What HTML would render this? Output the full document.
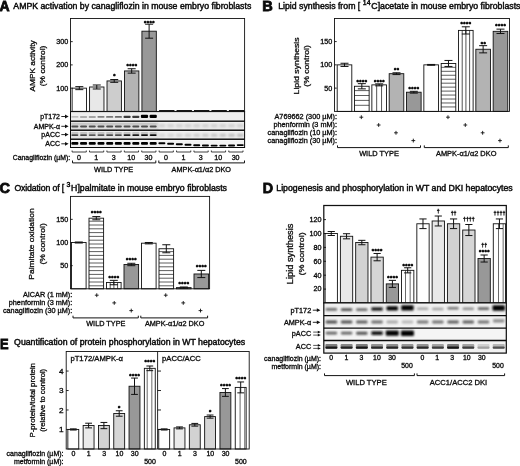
<!DOCTYPE html>
<html lang="en"><head><meta charset="utf-8"><title>Figure</title>
<style>html,body{margin:0;padding:0;background:#fff;}svg{display:block;}text{fill:#0a0a0a;stroke:#0a0a0a;stroke-width:0.32px;}</style></head><body>
<svg width="520" height="466" viewBox="0 0 520 466" font-family='"Liberation Sans", sans-serif'>
<defs>
<filter id="b1" x="-30%" y="-80%" width="160%" height="260%"><feGaussianBlur stdDeviation="0.55"/></filter>
<filter id="b2" x="-30%" y="-80%" width="160%" height="260%"><feGaussianBlur stdDeviation="0.9"/></filter>
</defs>
<rect width="520" height="466" fill="#fff"/>
<text transform="translate(-0.40,10.80) scale(0.96,1)" x="0" y="0" font-size="14.6px" font-weight="bold" style="stroke-width:0.8px">A</text>
<text transform="translate(13.30,9.20) scale(1,0.93)" font-size="8.75px" style="stroke-width:0.45px"><tspan>AMPK activation by canagliflozin in mouse embryo fibroblasts</tspan></text>
<rect x="72.12" y="88.15" width="14.40" height="23.25" fill="#fff" stroke="#111" stroke-width="0.9" />
<line x1="79.32" y1="86.65" x2="79.32" y2="89.65" stroke="#111" stroke-width="1.0"/>
<line x1="75.32" y1="86.65" x2="83.32" y2="86.65" stroke="#111" stroke-width="1.0"/>
<line x1="75.32" y1="89.65" x2="83.32" y2="89.65" stroke="#111" stroke-width="1.0"/>
<rect x="89.57" y="86.99" width="14.40" height="24.41" fill="#e8e8e8" stroke="#111" stroke-width="0.9" />
<line x1="96.77" y1="84.99" x2="96.77" y2="88.99" stroke="#111" stroke-width="1.0"/>
<line x1="92.77" y1="84.99" x2="100.77" y2="84.99" stroke="#111" stroke-width="1.0"/>
<line x1="92.77" y1="88.99" x2="100.77" y2="88.99" stroke="#111" stroke-width="1.0"/>
<rect x="107.02" y="80.94" width="14.40" height="30.46" fill="#cdcdcd" stroke="#111" stroke-width="0.9" />
<line x1="114.22" y1="79.54" x2="114.22" y2="82.34" stroke="#111" stroke-width="1.0"/>
<line x1="110.22" y1="79.54" x2="118.22" y2="79.54" stroke="#111" stroke-width="1.0"/>
<line x1="110.22" y1="82.34" x2="118.22" y2="82.34" stroke="#111" stroke-width="1.0"/>
<rect x="124.47" y="70.94" width="14.40" height="40.46" fill="#b3b3b3" stroke="#111" stroke-width="0.9" />
<line x1="131.67" y1="68.74" x2="131.67" y2="73.14" stroke="#111" stroke-width="1.0"/>
<line x1="127.67" y1="68.74" x2="135.67" y2="68.74" stroke="#111" stroke-width="1.0"/>
<line x1="127.67" y1="73.14" x2="135.67" y2="73.14" stroke="#111" stroke-width="1.0"/>
<rect x="141.92" y="31.19" width="14.40" height="80.21" fill="#989898" stroke="#111" stroke-width="0.9" />
<line x1="149.12" y1="24.19" x2="149.12" y2="38.19" stroke="#111" stroke-width="1.0"/>
<line x1="145.12" y1="24.19" x2="153.12" y2="24.19" stroke="#111" stroke-width="1.0"/>
<line x1="145.12" y1="38.19" x2="153.12" y2="38.19" stroke="#111" stroke-width="1.0"/>
<rect x="159.58" y="110.50" width="14.40" height="0.90" fill="#999" stroke="#111" stroke-width="0.9" />
<rect x="177.03" y="110.50" width="14.40" height="0.90" fill="#999" stroke="#111" stroke-width="0.9" />
<rect x="194.48" y="110.50" width="14.40" height="0.90" fill="#999" stroke="#111" stroke-width="0.9" />
<rect x="211.93" y="110.50" width="14.40" height="0.90" fill="#999" stroke="#111" stroke-width="0.9" />
<rect x="229.38" y="110.50" width="14.40" height="0.90" fill="#999" stroke="#111" stroke-width="0.9" />
<text transform="translate(114.67,78.13) scale(1,0.92)" font-size="5.8px" text-anchor="middle" font-weight="bold" letter-spacing="0.5" style="stroke-width:0.5px">*</text>
<text transform="translate(132.12,68.33) scale(1,0.92)" font-size="5.8px" text-anchor="middle" font-weight="bold" letter-spacing="0.5" style="stroke-width:0.5px">****</text>
<text transform="translate(149.57,25.13) scale(1,0.92)" font-size="5.8px" text-anchor="middle" font-weight="bold" letter-spacing="0.5" style="stroke-width:0.5px">****</text>
<rect x="70.50" y="18.50" width="174.10" height="92.90" fill="none" stroke="#111" stroke-width="0.9" />
<line x1="70.50" y1="88.15" x2="72.70" y2="88.15" stroke="#111" stroke-width="0.9"/>
<text transform="translate(68.30,90.53) scale(1,0.92)" font-size="7.2px" text-anchor="end" font-weight="normal" >100</text>
<line x1="70.50" y1="64.90" x2="72.70" y2="64.90" stroke="#111" stroke-width="0.9"/>
<text transform="translate(68.30,67.28) scale(1,0.92)" font-size="7.2px" text-anchor="end" font-weight="normal" >200</text>
<line x1="70.50" y1="41.65" x2="72.70" y2="41.65" stroke="#111" stroke-width="0.9"/>
<text transform="translate(68.30,44.03) scale(1,0.92)" font-size="7.2px" text-anchor="end" font-weight="normal" >300</text>
<text transform="translate(32.00,65.90) rotate(-90) scale(1,0.88)" x="0" y="2.99" font-size="8.3px" text-anchor="middle">AMPK activity</text>
<text transform="translate(42.20,65.90) rotate(-90) scale(1,0.88)" x="0" y="3.02" font-size="8.4px" text-anchor="middle">(% control)</text>
<rect x="70.50" y="111.60" width="174.10" height="9.50" fill="#eeeeee" stroke="none" stroke-width="0" />
<rect x="70.50" y="121.10" width="174.10" height="9.10" fill="#dcdcdc" stroke="none" stroke-width="0" />
<rect x="70.50" y="130.20" width="174.10" height="9.00" fill="#e4e4e4" stroke="none" stroke-width="0" />
<rect x="70.50" y="139.20" width="174.10" height="8.30" fill="#f2f2f2" stroke="none" stroke-width="0" />
<rect x="158.50" y="122.20" width="85.70" height="7.60" fill="#ebebeb" stroke="none" stroke-width="0" />
<rect x="158.50" y="131.40" width="85.70" height="7.60" fill="#eeeeee" stroke="none" stroke-width="0" />
<rect x="71" y="122.4" width="86" height="2.4" fill="#bdbdbd" filter="url(#b2)"/>
<rect x="71.25" y="116.25" width="7.20" height="1.30" rx="0.65" fill="#aaa" opacity="1.0" filter="url(#b1)"/>
<rect x="79.96" y="116.15" width="7.20" height="1.50" rx="0.75" fill="#999" opacity="1.0" filter="url(#b1)"/>
<rect x="88.66" y="116.15" width="7.20" height="1.50" rx="0.75" fill="#8a8a8a" opacity="1.0" filter="url(#b1)"/>
<rect x="97.37" y="116.10" width="7.20" height="1.60" rx="0.80" fill="#808080" opacity="1.0" filter="url(#b1)"/>
<rect x="106.07" y="116.05" width="7.20" height="1.70" rx="0.85" fill="#777" opacity="1.0" filter="url(#b1)"/>
<rect x="114.78" y="116.00" width="7.20" height="1.80" rx="0.90" fill="#6a6a6a" opacity="1.0" filter="url(#b1)"/>
<rect x="123.48" y="115.80" width="7.20" height="2.20" rx="1.00" fill="#3a3a3a" opacity="1.0" filter="url(#b1)"/>
<rect x="132.19" y="115.80" width="7.20" height="2.20" rx="1.00" fill="#3a3a3a" opacity="1.0" filter="url(#b1)"/>
<rect x="140.89" y="114.70" width="7.20" height="3.40" rx="1.00" fill="#000" opacity="1.0" filter="url(#b1)"/>
<rect x="149.60" y="114.70" width="7.20" height="3.40" rx="1.00" fill="#000" opacity="1.0" filter="url(#b1)"/>
<rect x="71.35" y="125.60" width="7.00" height="2.00" rx="1.00" fill="#505050" opacity="1.0" filter="url(#b1)"/>
<rect x="80.06" y="125.60" width="7.00" height="2.00" rx="1.00" fill="#505050" opacity="1.0" filter="url(#b1)"/>
<rect x="88.76" y="125.60" width="7.00" height="2.00" rx="1.00" fill="#505050" opacity="1.0" filter="url(#b1)"/>
<rect x="97.47" y="125.60" width="7.00" height="2.00" rx="1.00" fill="#505050" opacity="1.0" filter="url(#b1)"/>
<rect x="106.17" y="125.60" width="7.00" height="2.00" rx="1.00" fill="#505050" opacity="1.0" filter="url(#b1)"/>
<rect x="114.88" y="125.60" width="7.00" height="2.00" rx="1.00" fill="#505050" opacity="1.0" filter="url(#b1)"/>
<rect x="123.58" y="125.60" width="7.00" height="2.00" rx="1.00" fill="#505050" opacity="1.0" filter="url(#b1)"/>
<rect x="132.29" y="125.60" width="7.00" height="2.00" rx="1.00" fill="#505050" opacity="1.0" filter="url(#b1)"/>
<rect x="140.99" y="125.60" width="7.00" height="2.00" rx="1.00" fill="#505050" opacity="1.0" filter="url(#b1)"/>
<rect x="149.70" y="125.60" width="7.00" height="2.00" rx="1.00" fill="#505050" opacity="1.0" filter="url(#b1)"/>
<rect x="158.60" y="124.30" width="6.60" height="3.00" rx="1.00" fill="#cfcfcf" opacity="1" filter="url(#b2)"/>
<rect x="167.31" y="124.30" width="6.60" height="3.00" rx="1.00" fill="#cfcfcf" opacity="1" filter="url(#b2)"/>
<rect x="176.01" y="124.30" width="6.60" height="3.00" rx="1.00" fill="#cfcfcf" opacity="1" filter="url(#b2)"/>
<rect x="184.72" y="124.30" width="6.60" height="3.00" rx="1.00" fill="#cfcfcf" opacity="1" filter="url(#b2)"/>
<rect x="193.42" y="124.30" width="6.60" height="3.00" rx="1.00" fill="#cfcfcf" opacity="1" filter="url(#b2)"/>
<rect x="202.13" y="124.30" width="6.60" height="3.00" rx="1.00" fill="#cfcfcf" opacity="1" filter="url(#b2)"/>
<rect x="210.83" y="124.30" width="6.60" height="3.00" rx="1.00" fill="#cfcfcf" opacity="1" filter="url(#b2)"/>
<rect x="219.54" y="124.30" width="6.60" height="3.00" rx="1.00" fill="#cfcfcf" opacity="1" filter="url(#b2)"/>
<rect x="228.24" y="124.30" width="6.60" height="3.00" rx="1.00" fill="#cfcfcf" opacity="1" filter="url(#b2)"/>
<rect x="236.95" y="124.30" width="6.60" height="3.00" rx="1.00" fill="#cfcfcf" opacity="1" filter="url(#b2)"/>
<rect x="71.35" y="134.15" width="7.00" height="1.90" rx="0.95" fill="#484848" opacity="1.0" filter="url(#b1)"/>
<rect x="71.35" y="132.50" width="7.00" height="1.00" rx="0.50" fill="#a4a4a4" opacity="1.0" filter="url(#b1)"/>
<rect x="80.06" y="134.15" width="7.00" height="1.90" rx="0.95" fill="#484848" opacity="1.0" filter="url(#b1)"/>
<rect x="80.06" y="132.50" width="7.00" height="1.00" rx="0.50" fill="#a4a4a4" opacity="1.0" filter="url(#b1)"/>
<rect x="88.76" y="134.15" width="7.00" height="1.90" rx="0.95" fill="#585858" opacity="1.0" filter="url(#b1)"/>
<rect x="88.76" y="132.50" width="7.00" height="1.00" rx="0.50" fill="#a4a4a4" opacity="1.0" filter="url(#b1)"/>
<rect x="97.47" y="134.15" width="7.00" height="1.90" rx="0.95" fill="#585858" opacity="1.0" filter="url(#b1)"/>
<rect x="97.47" y="132.50" width="7.00" height="1.00" rx="0.50" fill="#a4a4a4" opacity="1.0" filter="url(#b1)"/>
<rect x="106.17" y="134.15" width="7.00" height="1.90" rx="0.95" fill="#4c4c4c" opacity="1.0" filter="url(#b1)"/>
<rect x="106.17" y="132.50" width="7.00" height="1.00" rx="0.50" fill="#a4a4a4" opacity="1.0" filter="url(#b1)"/>
<rect x="114.88" y="134.15" width="7.00" height="1.90" rx="0.95" fill="#4c4c4c" opacity="1.0" filter="url(#b1)"/>
<rect x="114.88" y="132.50" width="7.00" height="1.00" rx="0.50" fill="#a4a4a4" opacity="1.0" filter="url(#b1)"/>
<rect x="123.58" y="134.15" width="7.00" height="1.90" rx="0.95" fill="#1a1a1a" opacity="1.0" filter="url(#b1)"/>
<rect x="123.58" y="132.50" width="7.00" height="1.00" rx="0.50" fill="#a4a4a4" opacity="1.0" filter="url(#b1)"/>
<rect x="132.29" y="134.15" width="7.00" height="1.90" rx="0.95" fill="#1a1a1a" opacity="1.0" filter="url(#b1)"/>
<rect x="132.29" y="132.50" width="7.00" height="1.00" rx="0.50" fill="#a4a4a4" opacity="1.0" filter="url(#b1)"/>
<rect x="140.99" y="134.15" width="7.00" height="1.90" rx="0.95" fill="#0c0c0c" opacity="1.0" filter="url(#b1)"/>
<rect x="140.99" y="132.50" width="7.00" height="1.00" rx="0.50" fill="#a4a4a4" opacity="1.0" filter="url(#b1)"/>
<rect x="149.70" y="134.15" width="7.00" height="1.90" rx="0.95" fill="#0c0c0c" opacity="1.0" filter="url(#b1)"/>
<rect x="149.70" y="132.50" width="7.00" height="1.00" rx="0.50" fill="#a4a4a4" opacity="1.0" filter="url(#b1)"/>
<rect x="158.60" y="133.70" width="6.60" height="3.00" rx="1.00" fill="#d6d6d6" opacity="1" filter="url(#b2)"/>
<rect x="167.31" y="133.70" width="6.60" height="3.00" rx="1.00" fill="#d3d3d3" opacity="1" filter="url(#b2)"/>
<rect x="176.01" y="133.70" width="6.60" height="3.00" rx="1.00" fill="#d0d0d0" opacity="1" filter="url(#b2)"/>
<rect x="184.72" y="133.70" width="6.60" height="3.00" rx="1.00" fill="#cdcdcd" opacity="1" filter="url(#b2)"/>
<rect x="193.42" y="133.70" width="6.60" height="3.00" rx="1.00" fill="#cacaca" opacity="1" filter="url(#b2)"/>
<rect x="202.13" y="133.70" width="6.60" height="3.00" rx="1.00" fill="#c7c7c7" opacity="1" filter="url(#b2)"/>
<rect x="210.83" y="133.70" width="6.60" height="3.00" rx="1.00" fill="#c4c4c4" opacity="1" filter="url(#b2)"/>
<rect x="219.54" y="133.70" width="6.60" height="3.00" rx="1.00" fill="#c1c1c1" opacity="1" filter="url(#b2)"/>
<rect x="228.24" y="133.70" width="6.60" height="3.00" rx="1.00" fill="#bebebe" opacity="1" filter="url(#b2)"/>
<rect x="236.95" y="133.70" width="6.60" height="3.00" rx="1.00" fill="#bbbbbb" opacity="1" filter="url(#b2)"/>
<rect x="71.35" y="141.95" width="7.00" height="2.70" rx="1.00" fill="#000" opacity="1.0" filter="url(#b1)"/>
<rect x="80.06" y="141.95" width="7.00" height="2.70" rx="1.00" fill="#000" opacity="1.0" filter="url(#b1)"/>
<rect x="88.76" y="141.95" width="7.00" height="2.70" rx="1.00" fill="#000" opacity="1.0" filter="url(#b1)"/>
<rect x="97.47" y="141.95" width="7.00" height="2.70" rx="1.00" fill="#000" opacity="1.0" filter="url(#b1)"/>
<rect x="106.17" y="141.95" width="7.00" height="2.70" rx="1.00" fill="#000" opacity="1.0" filter="url(#b1)"/>
<rect x="114.88" y="141.95" width="7.00" height="2.70" rx="1.00" fill="#000" opacity="1.0" filter="url(#b1)"/>
<rect x="123.58" y="141.95" width="7.00" height="2.70" rx="1.00" fill="#000" opacity="1.0" filter="url(#b1)"/>
<rect x="132.29" y="141.95" width="7.00" height="2.70" rx="1.00" fill="#000" opacity="1.0" filter="url(#b1)"/>
<rect x="140.99" y="141.95" width="7.00" height="2.70" rx="1.00" fill="#000" opacity="1.0" filter="url(#b1)"/>
<rect x="149.70" y="141.95" width="7.00" height="2.70" rx="1.00" fill="#000" opacity="1.0" filter="url(#b1)"/>
<rect x="158.40" y="142.35" width="7.00" height="1.90" rx="0.95" fill="#000" opacity="1.0" filter="url(#b1)"/>
<rect x="167.11" y="142.75" width="7.00" height="1.90" rx="0.95" fill="#000" opacity="1.0" filter="url(#b1)"/>
<rect x="175.81" y="143.35" width="7.00" height="1.90" rx="0.95" fill="#000" opacity="1.0" filter="url(#b1)"/>
<rect x="184.52" y="143.85" width="7.00" height="1.90" rx="0.95" fill="#000" opacity="1.0" filter="url(#b1)"/>
<rect x="193.22" y="144.35" width="7.00" height="1.90" rx="0.95" fill="#000" opacity="1.0" filter="url(#b1)"/>
<rect x="201.93" y="144.55" width="7.00" height="1.90" rx="0.95" fill="#000" opacity="1.0" filter="url(#b1)"/>
<rect x="210.63" y="144.65" width="7.00" height="1.90" rx="0.95" fill="#000" opacity="1.0" filter="url(#b1)"/>
<rect x="219.34" y="144.65" width="7.00" height="1.90" rx="0.95" fill="#000" opacity="1.0" filter="url(#b1)"/>
<rect x="228.04" y="144.55" width="7.00" height="1.90" rx="0.95" fill="#000" opacity="1.0" filter="url(#b1)"/>
<rect x="236.75" y="144.15" width="7.00" height="1.90" rx="0.95" fill="#000" opacity="1.0" filter="url(#b1)"/>
<line x1="70.50" y1="121.20" x2="244.60" y2="121.20" stroke="#0a0a0a" stroke-width="1.5"/>
<line x1="70.50" y1="122.30" x2="244.60" y2="122.30" stroke="#fafafa" stroke-width="0.6"/>
<line x1="70.50" y1="130.30" x2="244.60" y2="130.30" stroke="#0a0a0a" stroke-width="1.5"/>
<line x1="70.50" y1="131.40" x2="244.60" y2="131.40" stroke="#fafafa" stroke-width="0.6"/>
<line x1="70.50" y1="139.30" x2="244.60" y2="139.30" stroke="#0a0a0a" stroke-width="1.5"/>
<line x1="70.50" y1="140.40" x2="244.60" y2="140.40" stroke="#fafafa" stroke-width="0.6"/>
<rect x="70.50" y="111.60" width="174.10" height="35.90" fill="none" stroke="#0a0a0a" stroke-width="1.0" />
<text transform="translate(60.00,118.82) scale(1,0.92)" font-size="7.0px" text-anchor="end" font-weight="normal" >pT172</text>
<line x1="61.30" y1="116.50" x2="66.80" y2="116.50" stroke="#111" stroke-width="0.9"/>
<path d="M68.60,116.50 L65.00,114.60 L65.00,118.40 Z" fill="#111"/>
<text transform="translate(60.00,128.62) scale(1,0.92)" font-size="7.0px" text-anchor="end" font-weight="normal" >AMPK-α</text>
<line x1="61.30" y1="126.30" x2="66.80" y2="126.30" stroke="#111" stroke-width="0.9"/>
<path d="M68.60,126.30 L65.00,124.40 L65.00,128.20 Z" fill="#111"/>
<text transform="translate(60.00,136.92) scale(1,0.92)" font-size="7.0px" text-anchor="end" font-weight="normal" >pACC</text>
<line x1="61.30" y1="134.60" x2="66.80" y2="134.60" stroke="#111" stroke-width="0.9"/>
<path d="M68.60,134.60 L65.00,132.70 L65.00,136.50 Z" fill="#111"/>
<text transform="translate(60.00,146.12) scale(1,0.92)" font-size="7.0px" text-anchor="end" font-weight="normal" >ACC</text>
<line x1="61.30" y1="143.80" x2="66.80" y2="143.80" stroke="#111" stroke-width="0.9"/>
<path d="M68.60,143.80 L65.00,141.90 L65.00,145.70 Z" fill="#111"/>
<path d="M72.10,150.50 V152.00 H86.31 V150.50" fill="none" stroke="#111" stroke-width="0.8"/>
<path d="M89.51,150.50 V152.00 H103.72 V150.50" fill="none" stroke="#111" stroke-width="0.8"/>
<path d="M106.92,150.50 V152.00 H121.13 V150.50" fill="none" stroke="#111" stroke-width="0.8"/>
<path d="M124.33,150.50 V152.00 H138.54 V150.50" fill="none" stroke="#111" stroke-width="0.8"/>
<path d="M141.74,150.50 V152.00 H155.95 V150.50" fill="none" stroke="#111" stroke-width="0.8"/>
<path d="M159.15,150.50 V152.00 H173.36 V150.50" fill="none" stroke="#111" stroke-width="0.8"/>
<path d="M176.56,150.50 V152.00 H190.77 V150.50" fill="none" stroke="#111" stroke-width="0.8"/>
<path d="M193.97,150.50 V152.00 H208.18 V150.50" fill="none" stroke="#111" stroke-width="0.8"/>
<path d="M211.38,150.50 V152.00 H225.59 V150.50" fill="none" stroke="#111" stroke-width="0.8"/>
<path d="M228.79,150.50 V152.00 H243.00 V150.50" fill="none" stroke="#111" stroke-width="0.8"/>
<text transform="translate(70.20,159.89) scale(1,0.92)" font-size="6.9px" text-anchor="end" font-weight="normal" >Canagliflozin (µM):</text>
<text transform="translate(78.91,159.75) scale(1,0.92)" font-size="7.1px" text-anchor="middle" font-weight="normal" >0</text>
<text transform="translate(96.32,159.75) scale(1,0.92)" font-size="7.1px" text-anchor="middle" font-weight="normal" >1</text>
<text transform="translate(113.73,159.75) scale(1,0.92)" font-size="7.1px" text-anchor="middle" font-weight="normal" >3</text>
<text transform="translate(131.13,159.75) scale(1,0.92)" font-size="7.1px" text-anchor="middle" font-weight="normal" >10</text>
<text transform="translate(148.54,159.75) scale(1,0.92)" font-size="7.1px" text-anchor="middle" font-weight="normal" >30</text>
<text transform="translate(165.95,159.75) scale(1,0.92)" font-size="7.1px" text-anchor="middle" font-weight="normal" >0</text>
<text transform="translate(183.37,159.75) scale(1,0.92)" font-size="7.1px" text-anchor="middle" font-weight="normal" >1</text>
<text transform="translate(200.77,159.75) scale(1,0.92)" font-size="7.1px" text-anchor="middle" font-weight="normal" >3</text>
<text transform="translate(218.19,159.75) scale(1,0.92)" font-size="7.1px" text-anchor="middle" font-weight="normal" >10</text>
<text transform="translate(235.59,159.75) scale(1,0.92)" font-size="7.1px" text-anchor="middle" font-weight="normal" >30</text>
<path d="M72.50,160.50 V162.90 H155.80 V160.50" fill="none" stroke="#111" stroke-width="1.0"/>
<path d="M158.80,160.50 V162.90 H244.50 V160.50" fill="none" stroke="#111" stroke-width="1.0"/>
<text transform="translate(113.60,172.02) scale(1,0.92)" font-size="7.3px" text-anchor="middle" font-weight="normal" >WILD TYPE</text>
<text transform="translate(201.30,172.02) scale(1,0.92)" font-size="7.3px" text-anchor="middle" font-weight="normal" >AMPK-α1/α2 DKO</text>
<text transform="translate(262.30,10.90) scale(1.0,1)" x="0" y="0" font-size="14.6px" font-weight="bold" style="stroke-width:0.8px">B</text>
<text transform="translate(278.20,9.20) scale(1,0.93)" font-size="8.75px" style="stroke-width:0.45px"><tspan>Lipid synthesis from [</tspan><tspan dx="2.5" dy="-4.7" font-size="7px">14</tspan><tspan dx="0.8" dy="4.7">C]acetate in mouse embryo fibroblasts</tspan></text>
<rect x="337.20" y="64.85" width="14.60" height="46.55" fill="#fff" stroke="#111" stroke-width="0.9" />
<line x1="344.50" y1="63.25" x2="344.50" y2="66.45" stroke="#111" stroke-width="1.0"/>
<line x1="340.50" y1="63.25" x2="348.50" y2="63.25" stroke="#111" stroke-width="1.0"/>
<line x1="340.50" y1="66.45" x2="348.50" y2="66.45" stroke="#111" stroke-width="1.0"/>
<rect x="354.53" y="86.26" width="14.60" height="25.14" fill="#fff" stroke="none" stroke-width="0" />
<line x1="354.53" y1="105.30" x2="369.13" y2="105.30" stroke="#2a2a2a" stroke-width="0.75"/>
<line x1="354.53" y1="100.40" x2="369.13" y2="100.40" stroke="#2a2a2a" stroke-width="0.75"/>
<line x1="354.53" y1="95.50" x2="369.13" y2="95.50" stroke="#2a2a2a" stroke-width="0.75"/>
<line x1="354.53" y1="90.60" x2="369.13" y2="90.60" stroke="#2a2a2a" stroke-width="0.75"/>
<rect x="354.53" y="86.26" width="14.60" height="25.14" fill="none" stroke="#111" stroke-width="0.9" />
<line x1="361.83" y1="83.66" x2="361.83" y2="88.86" stroke="#111" stroke-width="1.0"/>
<line x1="357.83" y1="83.66" x2="365.83" y2="83.66" stroke="#111" stroke-width="1.0"/>
<line x1="357.83" y1="88.86" x2="365.83" y2="88.86" stroke="#111" stroke-width="1.0"/>
<text transform="translate(362.08,83.93) scale(1,0.92)" font-size="5.8px" text-anchor="middle" font-weight="bold" letter-spacing="0.5" style="stroke-width:0.5px">****</text>
<rect x="371.86" y="84.87" width="14.60" height="26.53" fill="#fff" stroke="none" stroke-width="0" />
<line x1="376.66" y1="84.87" x2="376.66" y2="111.40" stroke="#2a2a2a" stroke-width="0.8"/>
<line x1="381.56" y1="84.87" x2="381.56" y2="111.40" stroke="#2a2a2a" stroke-width="0.8"/>
<rect x="371.86" y="84.87" width="14.60" height="26.53" fill="none" stroke="#111" stroke-width="0.9" />
<line x1="379.16" y1="83.87" x2="379.16" y2="85.87" stroke="#111" stroke-width="1.0"/>
<line x1="375.16" y1="83.87" x2="383.16" y2="83.87" stroke="#111" stroke-width="1.0"/>
<line x1="375.16" y1="85.87" x2="383.16" y2="85.87" stroke="#111" stroke-width="1.0"/>
<text transform="translate(379.41,84.23) scale(1,0.92)" font-size="5.8px" text-anchor="middle" font-weight="bold" letter-spacing="0.5" style="stroke-width:0.5px">****</text>
<rect x="389.19" y="73.69" width="14.60" height="37.71" fill="#b3b3b3" stroke="#111" stroke-width="0.9" />
<line x1="396.49" y1="72.79" x2="396.49" y2="74.59" stroke="#111" stroke-width="1.0"/>
<line x1="392.49" y1="72.79" x2="400.49" y2="72.79" stroke="#111" stroke-width="1.0"/>
<line x1="392.49" y1="74.59" x2="400.49" y2="74.59" stroke="#111" stroke-width="1.0"/>
<text transform="translate(396.74,71.63) scale(1,0.92)" font-size="5.8px" text-anchor="middle" font-weight="bold" letter-spacing="0.5" style="stroke-width:0.5px">**</text>
<rect x="406.52" y="92.22" width="14.60" height="19.18" fill="#989898" stroke="#111" stroke-width="0.9" />
<line x1="413.82" y1="91.32" x2="413.82" y2="93.12" stroke="#111" stroke-width="1.0"/>
<line x1="409.82" y1="91.32" x2="417.82" y2="91.32" stroke="#111" stroke-width="1.0"/>
<line x1="409.82" y1="93.12" x2="417.82" y2="93.12" stroke="#111" stroke-width="1.0"/>
<text transform="translate(414.07,90.98) scale(1,0.92)" font-size="5.8px" text-anchor="middle" font-weight="bold" letter-spacing="0.5" style="stroke-width:0.5px">****</text>
<rect x="423.85" y="64.85" width="14.60" height="46.55" fill="#fff" stroke="#111" stroke-width="0.9" />
<line x1="431.15" y1="64.45" x2="431.15" y2="65.25" stroke="#111" stroke-width="1.0"/>
<line x1="427.15" y1="64.45" x2="435.15" y2="64.45" stroke="#111" stroke-width="1.0"/>
<line x1="427.15" y1="65.25" x2="435.15" y2="65.25" stroke="#111" stroke-width="1.0"/>
<rect x="441.18" y="63.45" width="14.60" height="47.95" fill="#fff" stroke="none" stroke-width="0" />
<line x1="441.18" y1="106.94" x2="455.78" y2="106.94" stroke="#2a2a2a" stroke-width="0.75"/>
<line x1="441.18" y1="102.98" x2="455.78" y2="102.98" stroke="#2a2a2a" stroke-width="0.75"/>
<line x1="441.18" y1="99.02" x2="455.78" y2="99.02" stroke="#2a2a2a" stroke-width="0.75"/>
<line x1="441.18" y1="95.06" x2="455.78" y2="95.06" stroke="#2a2a2a" stroke-width="0.75"/>
<line x1="441.18" y1="91.10" x2="455.78" y2="91.10" stroke="#2a2a2a" stroke-width="0.75"/>
<line x1="441.18" y1="87.14" x2="455.78" y2="87.14" stroke="#2a2a2a" stroke-width="0.75"/>
<line x1="441.18" y1="83.18" x2="455.78" y2="83.18" stroke="#2a2a2a" stroke-width="0.75"/>
<line x1="441.18" y1="79.22" x2="455.78" y2="79.22" stroke="#2a2a2a" stroke-width="0.75"/>
<line x1="441.18" y1="75.26" x2="455.78" y2="75.26" stroke="#2a2a2a" stroke-width="0.75"/>
<line x1="441.18" y1="71.30" x2="455.78" y2="71.30" stroke="#2a2a2a" stroke-width="0.75"/>
<line x1="441.18" y1="67.34" x2="455.78" y2="67.34" stroke="#2a2a2a" stroke-width="0.75"/>
<rect x="441.18" y="63.45" width="14.60" height="47.95" fill="none" stroke="#111" stroke-width="0.9" />
<line x1="448.48" y1="60.45" x2="448.48" y2="66.45" stroke="#111" stroke-width="1.0"/>
<line x1="444.48" y1="60.45" x2="452.48" y2="60.45" stroke="#111" stroke-width="1.0"/>
<line x1="444.48" y1="66.45" x2="452.48" y2="66.45" stroke="#111" stroke-width="1.0"/>
<rect x="458.51" y="30.40" width="14.60" height="81.00" fill="#fff" stroke="none" stroke-width="0" />
<line x1="462.21" y1="30.40" x2="462.21" y2="111.40" stroke="#2a2a2a" stroke-width="0.8"/>
<line x1="465.91" y1="30.40" x2="465.91" y2="111.40" stroke="#2a2a2a" stroke-width="0.8"/>
<line x1="469.61" y1="30.40" x2="469.61" y2="111.40" stroke="#2a2a2a" stroke-width="0.8"/>
<rect x="458.51" y="30.40" width="14.60" height="81.00" fill="none" stroke="#111" stroke-width="0.9" />
<line x1="465.81" y1="26.80" x2="465.81" y2="34.00" stroke="#111" stroke-width="1.0"/>
<line x1="461.81" y1="26.80" x2="469.81" y2="26.80" stroke="#111" stroke-width="1.0"/>
<line x1="461.81" y1="34.00" x2="469.81" y2="34.00" stroke="#111" stroke-width="1.0"/>
<text transform="translate(466.06,25.73) scale(1,0.92)" font-size="5.8px" text-anchor="middle" font-weight="bold" letter-spacing="0.5" style="stroke-width:0.5px">****</text>
<rect x="475.84" y="49.26" width="14.60" height="62.14" fill="#b3b3b3" stroke="#111" stroke-width="0.9" />
<line x1="483.14" y1="45.66" x2="483.14" y2="52.86" stroke="#111" stroke-width="1.0"/>
<line x1="479.14" y1="45.66" x2="487.14" y2="45.66" stroke="#111" stroke-width="1.0"/>
<line x1="479.14" y1="52.86" x2="487.14" y2="52.86" stroke="#111" stroke-width="1.0"/>
<text transform="translate(483.39,46.33) scale(1,0.92)" font-size="5.8px" text-anchor="middle" font-weight="bold" letter-spacing="0.5" style="stroke-width:0.5px">**</text>
<rect x="493.17" y="31.33" width="14.60" height="80.07" fill="#989898" stroke="#111" stroke-width="0.9" />
<line x1="500.47" y1="29.13" x2="500.47" y2="33.53" stroke="#111" stroke-width="1.0"/>
<line x1="496.47" y1="29.13" x2="504.47" y2="29.13" stroke="#111" stroke-width="1.0"/>
<line x1="496.47" y1="33.53" x2="504.47" y2="33.53" stroke="#111" stroke-width="1.0"/>
<text transform="translate(500.72,28.33) scale(1,0.92)" font-size="5.8px" text-anchor="middle" font-weight="bold" letter-spacing="0.5" style="stroke-width:0.5px">****</text>
<rect x="334.50" y="18.50" width="175.00" height="92.90" fill="none" stroke="#111" stroke-width="0.9" />
<line x1="334.50" y1="88.12" x2="336.70" y2="88.12" stroke="#111" stroke-width="0.9"/>
<text transform="translate(332.30,90.51) scale(1,0.92)" font-size="7.2px" text-anchor="end" font-weight="normal" >50</text>
<line x1="334.50" y1="64.85" x2="336.70" y2="64.85" stroke="#111" stroke-width="0.9"/>
<text transform="translate(332.30,67.23) scale(1,0.92)" font-size="7.2px" text-anchor="end" font-weight="normal" >100</text>
<line x1="334.50" y1="41.58" x2="336.70" y2="41.58" stroke="#111" stroke-width="0.9"/>
<text transform="translate(332.30,43.96) scale(1,0.92)" font-size="7.2px" text-anchor="end" font-weight="normal" >150</text>
<text transform="translate(296.30,65.90) rotate(-90) scale(1,0.86)" x="0" y="3.13" font-size="8.7px" text-anchor="middle">Lipid synthesis</text>
<text transform="translate(306.40,65.90) rotate(-90) scale(1,0.86)" x="0" y="3.10" font-size="8.6px" text-anchor="middle">(% control)</text>
<text transform="translate(337.00,119.42) scale(1,0.92)" font-size="7.3px" text-anchor="end" font-weight="normal" >A769662 (300 µM):</text>
<text transform="translate(337.00,127.22) scale(1,0.92)" font-size="7.3px" text-anchor="end" font-weight="normal" >phenformin (3 mM):</text>
<text transform="translate(337.00,135.02) scale(1,0.92)" font-size="7.3px" text-anchor="end" font-weight="normal" >canagliflozin (10 µM):</text>
<text transform="translate(337.00,142.82) scale(1,0.92)" font-size="7.3px" text-anchor="end" font-weight="normal" >canagliflozin (30 µM):</text>
<line x1="359.43" y1="117.20" x2="363.23" y2="117.20" stroke="#111" stroke-width="0.9"/>
<line x1="361.33" y1="115.30" x2="361.33" y2="119.10" stroke="#111" stroke-width="0.9"/>
<line x1="376.76" y1="125.00" x2="380.56" y2="125.00" stroke="#111" stroke-width="0.9"/>
<line x1="378.66" y1="123.10" x2="378.66" y2="126.90" stroke="#111" stroke-width="0.9"/>
<line x1="394.09" y1="132.80" x2="397.89" y2="132.80" stroke="#111" stroke-width="0.9"/>
<line x1="395.99" y1="130.90" x2="395.99" y2="134.70" stroke="#111" stroke-width="0.9"/>
<line x1="411.42" y1="140.60" x2="415.22" y2="140.60" stroke="#111" stroke-width="0.9"/>
<line x1="413.32" y1="138.70" x2="413.32" y2="142.50" stroke="#111" stroke-width="0.9"/>
<line x1="446.08" y1="117.20" x2="449.88" y2="117.20" stroke="#111" stroke-width="0.9"/>
<line x1="447.98" y1="115.30" x2="447.98" y2="119.10" stroke="#111" stroke-width="0.9"/>
<line x1="463.41" y1="125.00" x2="467.21" y2="125.00" stroke="#111" stroke-width="0.9"/>
<line x1="465.31" y1="123.10" x2="465.31" y2="126.90" stroke="#111" stroke-width="0.9"/>
<line x1="480.74" y1="132.80" x2="484.54" y2="132.80" stroke="#111" stroke-width="0.9"/>
<line x1="482.64" y1="130.90" x2="482.64" y2="134.70" stroke="#111" stroke-width="0.9"/>
<line x1="498.07" y1="140.60" x2="501.87" y2="140.60" stroke="#111" stroke-width="0.9"/>
<line x1="499.97" y1="138.70" x2="499.97" y2="142.50" stroke="#111" stroke-width="0.9"/>
<path d="M337.50,145.40 V147.60 H420.50 V145.40" fill="none" stroke="#111" stroke-width="1.0"/>
<path d="M424.30,145.40 V147.60 H508.30 V145.40" fill="none" stroke="#111" stroke-width="1.0"/>
<text transform="translate(379.00,155.85) scale(1,0.92)" font-size="7.4px" text-anchor="middle" font-weight="normal" >WILD TYPE</text>
<text transform="translate(466.20,155.85) scale(1,0.92)" font-size="7.4px" text-anchor="middle" font-weight="normal" >AMPK-α1/α2 DKO</text>
<text transform="translate(-0.50,193.00) scale(1.0,1)" x="0" y="0" font-size="14.6px" font-weight="bold" style="stroke-width:0.8px">C</text>
<text transform="translate(14.40,190.90) scale(1,0.93)" font-size="8.75px" style="stroke-width:0.45px"><tspan letter-spacing="-0.13">Oxidation of [</tspan><tspan dx="2.4" dy="-4.7" font-size="7px">3</tspan><tspan dx="0.7" dy="4.7">H]palmitate in mouse embryo fibroblasts</tspan></text>
<rect x="71.50" y="242.50" width="14.60" height="46.30" fill="#fff" stroke="#111" stroke-width="0.9" />
<line x1="78.80" y1="242.00" x2="78.80" y2="243.00" stroke="#111" stroke-width="1.0"/>
<line x1="74.80" y1="242.00" x2="82.80" y2="242.00" stroke="#111" stroke-width="1.0"/>
<line x1="74.80" y1="243.00" x2="82.80" y2="243.00" stroke="#111" stroke-width="1.0"/>
<rect x="89.00" y="218.19" width="14.60" height="70.61" fill="#fff" stroke="none" stroke-width="0" />
<line x1="89.00" y1="285.80" x2="103.60" y2="285.80" stroke="#2a2a2a" stroke-width="0.75"/>
<line x1="89.00" y1="282.00" x2="103.60" y2="282.00" stroke="#2a2a2a" stroke-width="0.75"/>
<line x1="89.00" y1="278.20" x2="103.60" y2="278.20" stroke="#2a2a2a" stroke-width="0.75"/>
<line x1="89.00" y1="274.40" x2="103.60" y2="274.40" stroke="#2a2a2a" stroke-width="0.75"/>
<line x1="89.00" y1="270.60" x2="103.60" y2="270.60" stroke="#2a2a2a" stroke-width="0.75"/>
<line x1="89.00" y1="266.80" x2="103.60" y2="266.80" stroke="#2a2a2a" stroke-width="0.75"/>
<line x1="89.00" y1="263.00" x2="103.60" y2="263.00" stroke="#2a2a2a" stroke-width="0.75"/>
<line x1="89.00" y1="259.20" x2="103.60" y2="259.20" stroke="#2a2a2a" stroke-width="0.75"/>
<line x1="89.00" y1="255.40" x2="103.60" y2="255.40" stroke="#2a2a2a" stroke-width="0.75"/>
<line x1="89.00" y1="251.60" x2="103.60" y2="251.60" stroke="#2a2a2a" stroke-width="0.75"/>
<line x1="89.00" y1="247.80" x2="103.60" y2="247.80" stroke="#2a2a2a" stroke-width="0.75"/>
<line x1="89.00" y1="244.00" x2="103.60" y2="244.00" stroke="#2a2a2a" stroke-width="0.75"/>
<line x1="89.00" y1="240.20" x2="103.60" y2="240.20" stroke="#2a2a2a" stroke-width="0.75"/>
<line x1="89.00" y1="236.40" x2="103.60" y2="236.40" stroke="#2a2a2a" stroke-width="0.75"/>
<line x1="89.00" y1="232.60" x2="103.60" y2="232.60" stroke="#2a2a2a" stroke-width="0.75"/>
<line x1="89.00" y1="228.80" x2="103.60" y2="228.80" stroke="#2a2a2a" stroke-width="0.75"/>
<line x1="89.00" y1="225.00" x2="103.60" y2="225.00" stroke="#2a2a2a" stroke-width="0.75"/>
<line x1="89.00" y1="221.20" x2="103.60" y2="221.20" stroke="#2a2a2a" stroke-width="0.75"/>
<rect x="89.00" y="218.19" width="14.60" height="70.61" fill="none" stroke="#111" stroke-width="0.9" />
<line x1="96.30" y1="216.59" x2="96.30" y2="219.79" stroke="#111" stroke-width="1.0"/>
<line x1="92.30" y1="216.59" x2="100.30" y2="216.59" stroke="#111" stroke-width="1.0"/>
<line x1="92.30" y1="219.79" x2="100.30" y2="219.79" stroke="#111" stroke-width="1.0"/>
<text transform="translate(96.55,215.43) scale(1,0.92)" font-size="5.8px" text-anchor="middle" font-weight="bold" letter-spacing="0.5" style="stroke-width:0.5px">****</text>
<rect x="106.50" y="282.55" width="14.60" height="6.25" fill="#fff" stroke="none" stroke-width="0" />
<line x1="110.20" y1="282.55" x2="110.20" y2="288.80" stroke="#2a2a2a" stroke-width="0.8"/>
<line x1="113.90" y1="282.55" x2="113.90" y2="288.80" stroke="#2a2a2a" stroke-width="0.8"/>
<line x1="117.60" y1="282.55" x2="117.60" y2="288.80" stroke="#2a2a2a" stroke-width="0.8"/>
<rect x="106.50" y="282.55" width="14.60" height="6.25" fill="none" stroke="#111" stroke-width="0.9" />
<line x1="113.80" y1="280.35" x2="113.80" y2="284.75" stroke="#111" stroke-width="1.0"/>
<line x1="109.80" y1="280.35" x2="117.80" y2="280.35" stroke="#111" stroke-width="1.0"/>
<line x1="109.80" y1="284.75" x2="117.80" y2="284.75" stroke="#111" stroke-width="1.0"/>
<text transform="translate(114.05,280.03) scale(1,0.92)" font-size="5.8px" text-anchor="middle" font-weight="bold" letter-spacing="0.5" style="stroke-width:0.5px">****</text>
<rect x="124.00" y="264.49" width="14.60" height="24.31" fill="#989898" stroke="#111" stroke-width="0.9" />
<line x1="131.30" y1="263.29" x2="131.30" y2="265.69" stroke="#111" stroke-width="1.0"/>
<line x1="127.30" y1="263.29" x2="135.30" y2="263.29" stroke="#111" stroke-width="1.0"/>
<line x1="127.30" y1="265.69" x2="135.30" y2="265.69" stroke="#111" stroke-width="1.0"/>
<text transform="translate(131.55,261.73) scale(1,0.92)" font-size="5.8px" text-anchor="middle" font-weight="bold" letter-spacing="0.5" style="stroke-width:0.5px">****</text>
<rect x="141.50" y="243.19" width="14.60" height="45.61" fill="#fff" stroke="#111" stroke-width="0.9" />
<line x1="148.80" y1="242.49" x2="148.80" y2="243.89" stroke="#111" stroke-width="1.0"/>
<line x1="144.80" y1="242.49" x2="152.80" y2="242.49" stroke="#111" stroke-width="1.0"/>
<line x1="144.80" y1="243.89" x2="152.80" y2="243.89" stroke="#111" stroke-width="1.0"/>
<rect x="159.00" y="248.75" width="14.60" height="40.05" fill="#fff" stroke="none" stroke-width="0" />
<line x1="159.00" y1="285.80" x2="173.60" y2="285.80" stroke="#2a2a2a" stroke-width="0.75"/>
<line x1="159.00" y1="282.00" x2="173.60" y2="282.00" stroke="#2a2a2a" stroke-width="0.75"/>
<line x1="159.00" y1="278.20" x2="173.60" y2="278.20" stroke="#2a2a2a" stroke-width="0.75"/>
<line x1="159.00" y1="274.40" x2="173.60" y2="274.40" stroke="#2a2a2a" stroke-width="0.75"/>
<line x1="159.00" y1="270.60" x2="173.60" y2="270.60" stroke="#2a2a2a" stroke-width="0.75"/>
<line x1="159.00" y1="266.80" x2="173.60" y2="266.80" stroke="#2a2a2a" stroke-width="0.75"/>
<line x1="159.00" y1="263.00" x2="173.60" y2="263.00" stroke="#2a2a2a" stroke-width="0.75"/>
<line x1="159.00" y1="259.20" x2="173.60" y2="259.20" stroke="#2a2a2a" stroke-width="0.75"/>
<line x1="159.00" y1="255.40" x2="173.60" y2="255.40" stroke="#2a2a2a" stroke-width="0.75"/>
<line x1="159.00" y1="251.60" x2="173.60" y2="251.60" stroke="#2a2a2a" stroke-width="0.75"/>
<rect x="159.00" y="248.75" width="14.60" height="40.05" fill="none" stroke="#111" stroke-width="0.9" />
<line x1="166.30" y1="244.75" x2="166.30" y2="252.75" stroke="#111" stroke-width="1.0"/>
<line x1="162.30" y1="244.75" x2="170.30" y2="244.75" stroke="#111" stroke-width="1.0"/>
<line x1="162.30" y1="252.75" x2="170.30" y2="252.75" stroke="#111" stroke-width="1.0"/>
<rect x="176.50" y="287.60" width="14.60" height="1.20" fill="#fff" stroke="none" stroke-width="0" />
<line x1="180.20" y1="287.60" x2="180.20" y2="288.80" stroke="#2a2a2a" stroke-width="0.8"/>
<line x1="183.90" y1="287.60" x2="183.90" y2="288.80" stroke="#2a2a2a" stroke-width="0.8"/>
<line x1="187.60" y1="287.60" x2="187.60" y2="288.80" stroke="#2a2a2a" stroke-width="0.8"/>
<rect x="176.50" y="287.60" width="14.60" height="1.20" fill="none" stroke="#111" stroke-width="0.9" />
<line x1="183.80" y1="287.00" x2="183.80" y2="288.20" stroke="#111" stroke-width="1.0"/>
<line x1="179.80" y1="287.00" x2="187.80" y2="287.00" stroke="#111" stroke-width="1.0"/>
<line x1="179.80" y1="288.20" x2="187.80" y2="288.20" stroke="#111" stroke-width="1.0"/>
<text transform="translate(184.05,286.03) scale(1,0.92)" font-size="5.8px" text-anchor="middle" font-weight="bold" letter-spacing="0.5" style="stroke-width:0.5px">****</text>
<rect x="194.00" y="273.98" width="14.60" height="14.82" fill="#989898" stroke="#111" stroke-width="0.9" />
<line x1="201.30" y1="270.38" x2="201.30" y2="277.58" stroke="#111" stroke-width="1.0"/>
<line x1="197.30" y1="270.38" x2="205.30" y2="270.38" stroke="#111" stroke-width="1.0"/>
<line x1="197.30" y1="277.58" x2="205.30" y2="277.58" stroke="#111" stroke-width="1.0"/>
<text transform="translate(201.55,268.83) scale(1,0.92)" font-size="5.8px" text-anchor="middle" font-weight="bold" letter-spacing="0.5" style="stroke-width:0.5px">****</text>
<rect x="70.50" y="196.40" width="139.10" height="92.40" fill="none" stroke="#111" stroke-width="0.9" />
<line x1="70.50" y1="265.65" x2="72.70" y2="265.65" stroke="#111" stroke-width="0.9"/>
<text transform="translate(68.30,268.03) scale(1,0.92)" font-size="7.2px" text-anchor="end" font-weight="normal" >50</text>
<line x1="70.50" y1="242.50" x2="72.70" y2="242.50" stroke="#111" stroke-width="0.9"/>
<text transform="translate(68.30,244.88) scale(1,0.92)" font-size="7.2px" text-anchor="end" font-weight="normal" >100</text>
<line x1="70.50" y1="219.35" x2="72.70" y2="219.35" stroke="#111" stroke-width="0.9"/>
<text transform="translate(68.30,221.73) scale(1,0.92)" font-size="7.2px" text-anchor="end" font-weight="normal" >150</text>
<text transform="translate(31.50,244.00) rotate(-90) scale(1,0.87)" x="0" y="3.04" font-size="8.45px" text-anchor="middle">Palmitate oxidation</text>
<text transform="translate(42.00,243.90) rotate(-90) scale(1,0.86)" x="0" y="3.08" font-size="8.55px" text-anchor="middle">(% control)</text>
<text transform="translate(72.30,296.92) scale(1,0.92)" font-size="7.3px" text-anchor="end" font-weight="normal" >AICAR (1 mM):</text>
<text transform="translate(72.30,304.77) scale(1,0.92)" font-size="7.3px" text-anchor="end" font-weight="normal" >phenformin (3 mM):</text>
<text transform="translate(72.30,312.62) scale(1,0.92)" font-size="7.3px" text-anchor="end" font-weight="normal" >canagliflozin (30 µM):</text>
<line x1="94.85" y1="295.20" x2="98.65" y2="295.20" stroke="#111" stroke-width="0.9"/>
<line x1="96.75" y1="293.30" x2="96.75" y2="297.10" stroke="#111" stroke-width="0.9"/>
<line x1="112.35" y1="302.90" x2="116.15" y2="302.90" stroke="#111" stroke-width="0.9"/>
<line x1="114.25" y1="301.00" x2="114.25" y2="304.80" stroke="#111" stroke-width="0.9"/>
<line x1="129.35" y1="310.60" x2="133.15" y2="310.60" stroke="#111" stroke-width="0.9"/>
<line x1="131.25" y1="308.70" x2="131.25" y2="312.50" stroke="#111" stroke-width="0.9"/>
<line x1="163.85" y1="295.20" x2="167.65" y2="295.20" stroke="#111" stroke-width="0.9"/>
<line x1="165.75" y1="293.30" x2="165.75" y2="297.10" stroke="#111" stroke-width="0.9"/>
<line x1="181.35" y1="302.90" x2="185.15" y2="302.90" stroke="#111" stroke-width="0.9"/>
<line x1="183.25" y1="301.00" x2="183.25" y2="304.80" stroke="#111" stroke-width="0.9"/>
<line x1="198.60" y1="310.60" x2="202.40" y2="310.60" stroke="#111" stroke-width="0.9"/>
<line x1="200.50" y1="308.70" x2="200.50" y2="312.50" stroke="#111" stroke-width="0.9"/>
<path d="M73.00,315.70 V317.90 H138.30 V315.70" fill="none" stroke="#111" stroke-width="1.0"/>
<path d="M140.80,315.70 V317.90 H207.60 V315.70" fill="none" stroke="#111" stroke-width="1.0"/>
<text transform="translate(105.80,326.22) scale(1,0.92)" font-size="7.3px" text-anchor="middle" font-weight="normal" >WILD TYPE</text>
<text transform="translate(174.60,326.22) scale(1,0.92)" font-size="7.3px" text-anchor="middle" font-weight="normal" >AMPK-α1/α2 DKO</text>
<text transform="translate(262.80,193.30) scale(0.98,1)" x="0" y="0" font-size="14.6px" font-weight="bold" style="stroke-width:0.8px">D</text>
<text transform="translate(276.30,190.70) scale(1,0.93)" font-size="8.75px" style="stroke-width:0.45px"><tspan>Lipogenesis and phosphorylation in WT and DKI hepatocytes</tspan></text>
<rect x="325.10" y="233.50" width="12.30" height="69.50" fill="#fff" stroke="#111" stroke-width="0.9" />
<line x1="331.25" y1="231.50" x2="331.25" y2="235.50" stroke="#111" stroke-width="1.0"/>
<line x1="327.65" y1="231.50" x2="334.85" y2="231.50" stroke="#111" stroke-width="1.0"/>
<line x1="327.65" y1="235.50" x2="334.85" y2="235.50" stroke="#111" stroke-width="1.0"/>
<rect x="340.39" y="236.28" width="12.30" height="66.72" fill="#e8e8e8" stroke="#111" stroke-width="0.9" />
<line x1="346.54" y1="233.73" x2="346.54" y2="238.83" stroke="#111" stroke-width="1.0"/>
<line x1="342.94" y1="233.73" x2="350.14" y2="233.73" stroke="#111" stroke-width="1.0"/>
<line x1="342.94" y1="238.83" x2="350.14" y2="238.83" stroke="#111" stroke-width="1.0"/>
<rect x="355.68" y="242.53" width="12.30" height="60.47" fill="#d2d2d2" stroke="#111" stroke-width="0.9" />
<line x1="361.83" y1="240.33" x2="361.83" y2="244.74" stroke="#111" stroke-width="1.0"/>
<line x1="358.23" y1="240.33" x2="365.43" y2="240.33" stroke="#111" stroke-width="1.0"/>
<line x1="358.23" y1="244.74" x2="365.43" y2="244.74" stroke="#111" stroke-width="1.0"/>
<rect x="370.97" y="257.13" width="12.30" height="45.87" fill="#d6d6d6" stroke="#111" stroke-width="0.9" />
<line x1="377.12" y1="253.47" x2="377.12" y2="260.79" stroke="#111" stroke-width="1.0"/>
<line x1="373.52" y1="253.47" x2="380.72" y2="253.47" stroke="#111" stroke-width="1.0"/>
<line x1="373.52" y1="260.79" x2="380.72" y2="260.79" stroke="#111" stroke-width="1.0"/>
<text transform="translate(377.37,253.33) scale(1,0.92)" font-size="5.8px" text-anchor="middle" font-weight="bold" letter-spacing="0.5" style="stroke-width:0.5px">****</text>
<rect x="386.26" y="283.89" width="12.30" height="19.11" fill="#989898" stroke="#111" stroke-width="0.9" />
<line x1="392.41" y1="280.37" x2="392.41" y2="287.41" stroke="#111" stroke-width="1.0"/>
<line x1="388.81" y1="280.37" x2="396.01" y2="280.37" stroke="#111" stroke-width="1.0"/>
<line x1="388.81" y1="287.41" x2="396.01" y2="287.41" stroke="#111" stroke-width="1.0"/>
<text transform="translate(392.66,279.93) scale(1,0.92)" font-size="5.8px" text-anchor="middle" font-weight="bold" letter-spacing="0.5" style="stroke-width:0.5px">****</text>
<rect x="401.55" y="270.33" width="12.30" height="32.67" fill="#fff" stroke="none" stroke-width="0" />
<line x1="405.50" y1="270.33" x2="405.50" y2="303.00" stroke="#444" stroke-width="0.8"/>
<line x1="410.15" y1="270.33" x2="410.15" y2="303.00" stroke="#444" stroke-width="0.8"/>
<rect x="401.55" y="270.33" width="12.30" height="32.67" fill="none" stroke="#111" stroke-width="0.9" />
<line x1="407.70" y1="267.78" x2="407.70" y2="272.89" stroke="#111" stroke-width="1.0"/>
<line x1="404.10" y1="267.78" x2="411.30" y2="267.78" stroke="#111" stroke-width="1.0"/>
<line x1="404.10" y1="272.89" x2="411.30" y2="272.89" stroke="#111" stroke-width="1.0"/>
<text transform="translate(407.95,267.83) scale(1,0.92)" font-size="5.8px" text-anchor="middle" font-weight="bold" letter-spacing="0.5" style="stroke-width:0.5px">****</text>
<rect x="416.84" y="223.77" width="12.30" height="79.23" fill="#fff" stroke="#111" stroke-width="0.9" />
<line x1="422.99" y1="218.94" x2="422.99" y2="228.60" stroke="#111" stroke-width="1.0"/>
<line x1="419.39" y1="218.94" x2="426.59" y2="218.94" stroke="#111" stroke-width="1.0"/>
<line x1="419.39" y1="228.60" x2="426.59" y2="228.60" stroke="#111" stroke-width="1.0"/>
<rect x="432.13" y="220.99" width="12.30" height="82.01" fill="#e8e8e8" stroke="#111" stroke-width="0.9" />
<line x1="438.28" y1="216.02" x2="438.28" y2="225.96" stroke="#111" stroke-width="1.0"/>
<line x1="434.68" y1="216.02" x2="441.88" y2="216.02" stroke="#111" stroke-width="1.0"/>
<line x1="434.68" y1="225.96" x2="441.88" y2="225.96" stroke="#111" stroke-width="1.0"/>
<text transform="translate(438.28,212.55) scale(1,0.92)" font-size="5.3px" text-anchor="middle" font-weight="bold" >†</text>
<rect x="447.42" y="223.77" width="12.30" height="79.23" fill="#d2d2d2" stroke="#111" stroke-width="0.9" />
<line x1="453.57" y1="218.94" x2="453.57" y2="228.60" stroke="#111" stroke-width="1.0"/>
<line x1="449.97" y1="218.94" x2="457.17" y2="218.94" stroke="#111" stroke-width="1.0"/>
<line x1="449.97" y1="228.60" x2="457.17" y2="228.60" stroke="#111" stroke-width="1.0"/>
<text transform="translate(453.57,215.47) scale(1,0.92)" font-size="5.3px" text-anchor="middle" font-weight="bold" >††</text>
<rect x="462.71" y="230.03" width="12.30" height="72.97" fill="#d6d6d6" stroke="#111" stroke-width="0.9" />
<line x1="468.86" y1="224.50" x2="468.86" y2="235.55" stroke="#111" stroke-width="1.0"/>
<line x1="465.26" y1="224.50" x2="472.46" y2="224.50" stroke="#111" stroke-width="1.0"/>
<line x1="465.26" y1="235.55" x2="472.46" y2="235.55" stroke="#111" stroke-width="1.0"/>
<text transform="translate(468.86,221.03) scale(1,0.92)" font-size="5.3px" text-anchor="middle" font-weight="bold" >††††</text>
<rect x="478.00" y="258.52" width="12.30" height="44.48" fill="#989898" stroke="#111" stroke-width="0.9" />
<line x1="484.15" y1="255.00" x2="484.15" y2="262.04" stroke="#111" stroke-width="1.0"/>
<line x1="480.55" y1="255.00" x2="487.75" y2="255.00" stroke="#111" stroke-width="1.0"/>
<line x1="480.55" y1="262.04" x2="487.75" y2="262.04" stroke="#111" stroke-width="1.0"/>
<text transform="translate(484.40,253.83) scale(1,0.92)" font-size="5.8px" text-anchor="middle" font-weight="bold" letter-spacing="0.5" style="stroke-width:0.5px">****</text>
<text transform="translate(484.15,247.43) scale(1,0.92)" font-size="5.3px" text-anchor="middle" font-weight="bold" >††</text>
<rect x="493.29" y="223.77" width="12.30" height="79.23" fill="#fff" stroke="none" stroke-width="0" />
<line x1="498.50" y1="223.77" x2="498.50" y2="303.00" stroke="#444" stroke-width="0.8"/>
<line x1="503.15" y1="223.77" x2="503.15" y2="303.00" stroke="#444" stroke-width="0.8"/>
<rect x="493.29" y="223.77" width="12.30" height="79.23" fill="none" stroke="#111" stroke-width="0.9" />
<line x1="499.44" y1="218.94" x2="499.44" y2="228.60" stroke="#111" stroke-width="1.0"/>
<line x1="495.84" y1="218.94" x2="503.04" y2="218.94" stroke="#111" stroke-width="1.0"/>
<line x1="495.84" y1="228.60" x2="503.04" y2="228.60" stroke="#111" stroke-width="1.0"/>
<text transform="translate(499.44,215.47) scale(1,0.92)" font-size="5.3px" text-anchor="middle" font-weight="bold" >††††</text>
<rect x="323.80" y="205.50" width="182.50" height="97.50" fill="none" stroke="#111" stroke-width="1.25" />
<line x1="323.80" y1="289.10" x2="326.00" y2="289.10" stroke="#111" stroke-width="0.9"/>
<text transform="translate(321.60,291.48) scale(1,0.92)" font-size="7.2px" text-anchor="end" font-weight="normal" >20</text>
<line x1="323.80" y1="275.20" x2="326.00" y2="275.20" stroke="#111" stroke-width="0.9"/>
<text transform="translate(321.60,277.58) scale(1,0.92)" font-size="7.2px" text-anchor="end" font-weight="normal" >40</text>
<line x1="323.80" y1="261.30" x2="326.00" y2="261.30" stroke="#111" stroke-width="0.9"/>
<text transform="translate(321.60,263.68) scale(1,0.92)" font-size="7.2px" text-anchor="end" font-weight="normal" >60</text>
<line x1="323.80" y1="247.40" x2="326.00" y2="247.40" stroke="#111" stroke-width="0.9"/>
<text transform="translate(321.60,249.78) scale(1,0.92)" font-size="7.2px" text-anchor="end" font-weight="normal" >80</text>
<line x1="323.80" y1="233.50" x2="326.00" y2="233.50" stroke="#111" stroke-width="0.9"/>
<text transform="translate(321.60,235.88) scale(1,0.92)" font-size="7.2px" text-anchor="end" font-weight="normal" >100</text>
<line x1="323.80" y1="219.60" x2="326.00" y2="219.60" stroke="#111" stroke-width="0.9"/>
<text transform="translate(321.60,221.98) scale(1,0.92)" font-size="7.2px" text-anchor="end" font-weight="normal" >120</text>
<text transform="translate(290.30,253.90) rotate(-90) scale(1,0.9)" x="0" y="3.33" font-size="9.25px" text-anchor="middle">Lipid synthesis</text>
<text transform="translate(300.90,253.90) rotate(-90) scale(1,0.9)" x="0" y="3.24" font-size="9.0px" text-anchor="middle">(% control)</text>
<rect x="323.80" y="302.90" width="182.50" height="12.70" fill="#f0f0f0" stroke="none" stroke-width="0" />
<rect x="323.80" y="315.60" width="182.50" height="12.60" fill="#f3f3f3" stroke="none" stroke-width="0" />
<rect x="323.80" y="328.20" width="182.50" height="12.30" fill="#f5f5f5" stroke="none" stroke-width="0" />
<rect x="323.80" y="340.50" width="182.50" height="12.60" fill="#f1f1f1" stroke="none" stroke-width="0" />
<rect x="325.70" y="308.10" width="11.40" height="2.60" rx="1.00" fill="#6a6a6a" opacity="1" filter="url(#b2)"/>
<rect x="340.91" y="308.15" width="11.40" height="2.90" rx="1.00" fill="#505050" opacity="1" filter="url(#b2)"/>
<rect x="356.12" y="308.30" width="11.40" height="2.60" rx="1.00" fill="#6a6a6a" opacity="1" filter="url(#b2)"/>
<rect x="371.33" y="307.35" width="11.40" height="3.30" rx="1.00" fill="#1c1c1c" opacity="1" filter="url(#b2)"/>
<rect x="386.54" y="306.30" width="11.40" height="4.20" rx="1.00" fill="#000" opacity="1" filter="url(#b2)"/>
<rect x="401.25" y="305.20" width="12.40" height="5.20" rx="1.00" fill="#000" opacity="1" filter="url(#b2)"/>
<rect x="416.95" y="307.60" width="11.40" height="2.40" rx="1.00" fill="#a4a4a4" opacity="1" filter="url(#b2)"/>
<rect x="432.16" y="307.80" width="11.40" height="2.40" rx="1.00" fill="#a0a0a0" opacity="1" filter="url(#b2)"/>
<rect x="447.37" y="306.90" width="11.40" height="2.60" rx="1.00" fill="#707070" opacity="1" filter="url(#b2)"/>
<rect x="462.58" y="307.60" width="11.40" height="2.40" rx="1.00" fill="#8c8c8c" opacity="1" filter="url(#b2)"/>
<rect x="477.79" y="307.20" width="11.40" height="2.80" rx="1.00" fill="#606060" opacity="1" filter="url(#b2)"/>
<rect x="492.50" y="305.30" width="12.40" height="5.40" rx="1.00" fill="#000" opacity="1" filter="url(#b2)"/>
<rect x="325.70" y="320.40" width="11.40" height="3.20" rx="1.00" fill="#4c4c4c" opacity="1" filter="url(#b2)"/>
<rect x="340.91" y="320.40" width="11.40" height="3.20" rx="1.00" fill="#505050" opacity="1" filter="url(#b2)"/>
<rect x="356.12" y="320.40" width="11.40" height="3.20" rx="1.00" fill="#5c5c5c" opacity="1" filter="url(#b2)"/>
<rect x="371.33" y="320.40" width="11.40" height="3.20" rx="1.00" fill="#6c6c6c" opacity="1" filter="url(#b2)"/>
<rect x="386.54" y="320.40" width="11.40" height="3.20" rx="1.00" fill="#a8a8a8" opacity="1" filter="url(#b2)"/>
<rect x="401.75" y="320.40" width="11.40" height="3.20" rx="1.00" fill="#b8b8b8" opacity="1" filter="url(#b2)"/>
<rect x="416.95" y="320.40" width="11.40" height="3.20" rx="1.00" fill="#747474" opacity="1" filter="url(#b2)"/>
<rect x="432.16" y="320.40" width="11.40" height="3.20" rx="1.00" fill="#707070" opacity="1" filter="url(#b2)"/>
<rect x="447.37" y="320.40" width="11.40" height="3.20" rx="1.00" fill="#5c5c5c" opacity="1" filter="url(#b2)"/>
<rect x="462.58" y="320.40" width="11.40" height="3.20" rx="1.00" fill="#5c5c5c" opacity="1" filter="url(#b2)"/>
<rect x="477.79" y="320.40" width="11.40" height="3.20" rx="1.00" fill="#707070" opacity="1" filter="url(#b2)"/>
<rect x="493.00" y="319.20" width="11.40" height="3.20" rx="1.00" fill="#8a8a8a" opacity="1" filter="url(#b2)"/>
<rect x="325.70" y="331.80" width="11.40" height="2.80" rx="1.00" fill="#606060" opacity="1" filter="url(#b2)"/>
<rect x="340.91" y="331.80" width="11.40" height="2.80" rx="1.00" fill="#606060" opacity="1" filter="url(#b2)"/>
<rect x="356.12" y="331.70" width="11.40" height="3.00" rx="1.00" fill="#505050" opacity="1" filter="url(#b2)"/>
<rect x="371.33" y="331.30" width="11.40" height="3.80" rx="1.00" fill="#0c0c0c" opacity="1" filter="url(#b2)"/>
<rect x="385.74" y="330.60" width="13.00" height="5.20" rx="1.00" fill="#000" opacity="1" filter="url(#b2)"/>
<rect x="400.95" y="330.40" width="13.00" height="5.60" rx="1.00" fill="#000" opacity="1" filter="url(#b2)"/>
<rect x="325.40" y="343.90" width="12.00" height="4.60" rx="1.00" fill="#7c7c7c" opacity="1" filter="url(#b1)"/>
<rect x="325.40" y="346.50" width="12.00" height="2.20" rx="1.00" fill="#161616" opacity="1" filter="url(#b1)"/>
<rect x="340.61" y="343.90" width="12.00" height="4.60" rx="1.00" fill="#868686" opacity="1" filter="url(#b1)"/>
<rect x="340.61" y="346.50" width="12.00" height="2.20" rx="1.00" fill="#202020" opacity="1" filter="url(#b1)"/>
<rect x="355.82" y="343.90" width="12.00" height="4.60" rx="1.00" fill="#7c7c7c" opacity="1" filter="url(#b1)"/>
<rect x="355.82" y="346.50" width="12.00" height="2.20" rx="1.00" fill="#161616" opacity="1" filter="url(#b1)"/>
<rect x="371.03" y="343.90" width="12.00" height="4.60" rx="1.00" fill="#929292" opacity="1" filter="url(#b1)"/>
<rect x="371.03" y="346.50" width="12.00" height="2.20" rx="1.00" fill="#2c2c2c" opacity="1" filter="url(#b1)"/>
<rect x="386.24" y="343.90" width="12.00" height="4.60" rx="1.00" fill="#8c8c8c" opacity="1" filter="url(#b1)"/>
<rect x="386.24" y="346.50" width="12.00" height="2.20" rx="1.00" fill="#262626" opacity="1" filter="url(#b1)"/>
<rect x="401.45" y="343.90" width="12.00" height="4.60" rx="1.00" fill="#969696" opacity="1" filter="url(#b1)"/>
<rect x="401.45" y="346.50" width="12.00" height="2.20" rx="1.00" fill="#303030" opacity="1" filter="url(#b1)"/>
<rect x="416.65" y="343.90" width="12.00" height="4.60" rx="1.00" fill="#929292" opacity="1" filter="url(#b1)"/>
<rect x="416.65" y="346.50" width="12.00" height="2.20" rx="1.00" fill="#2c2c2c" opacity="1" filter="url(#b1)"/>
<rect x="431.86" y="343.90" width="12.00" height="4.60" rx="1.00" fill="#a2a2a2" opacity="1" filter="url(#b1)"/>
<rect x="431.86" y="346.50" width="12.00" height="2.20" rx="1.00" fill="#3c3c3c" opacity="1" filter="url(#b1)"/>
<rect x="447.07" y="343.90" width="12.00" height="4.60" rx="1.00" fill="#7c7c7c" opacity="1" filter="url(#b1)"/>
<rect x="447.07" y="346.50" width="12.00" height="2.20" rx="1.00" fill="#161616" opacity="1" filter="url(#b1)"/>
<rect x="462.28" y="343.90" width="12.00" height="4.60" rx="1.00" fill="#a2a2a2" opacity="1" filter="url(#b1)"/>
<rect x="462.28" y="346.50" width="12.00" height="2.20" rx="1.00" fill="#3c3c3c" opacity="1" filter="url(#b1)"/>
<rect x="477.49" y="343.90" width="12.00" height="4.60" rx="1.00" fill="#d0d0d0" opacity="1" filter="url(#b1)"/>
<rect x="477.49" y="346.50" width="12.00" height="2.20" rx="1.00" fill="#a0a0a0" opacity="1" filter="url(#b1)"/>
<rect x="492.70" y="343.90" width="12.00" height="4.60" rx="1.00" fill="#b6b6b6" opacity="1" filter="url(#b1)"/>
<rect x="492.70" y="346.50" width="12.00" height="2.20" rx="1.00" fill="#505050" opacity="1" filter="url(#b1)"/>
<line x1="323.80" y1="315.60" x2="506.30" y2="315.60" stroke="#0a0a0a" stroke-width="1.3"/>
<line x1="323.80" y1="328.20" x2="506.30" y2="328.20" stroke="#0a0a0a" stroke-width="1.3"/>
<line x1="323.80" y1="340.50" x2="506.30" y2="340.50" stroke="#0a0a0a" stroke-width="1.3"/>
<rect x="323.80" y="302.90" width="182.50" height="50.20" fill="none" stroke="#0a0a0a" stroke-width="1.2" />
<text transform="translate(311.20,312.62) scale(1,0.92)" font-size="7.3px" text-anchor="end" font-weight="normal" >pT172</text>
<line x1="312.80" y1="310.20" x2="318.60" y2="310.20" stroke="#111" stroke-width="0.9"/>
<path d="M320.40,310.20 L316.80,308.30 L316.80,312.10 Z" fill="#111"/>
<text transform="translate(311.20,324.72) scale(1,0.92)" font-size="7.3px" text-anchor="end" font-weight="normal" >AMPK-α</text>
<line x1="312.80" y1="322.30" x2="318.60" y2="322.30" stroke="#111" stroke-width="0.9"/>
<path d="M320.40,322.30 L316.80,320.40 L316.80,324.20 Z" fill="#111"/>
<text transform="translate(311.20,336.02) scale(1,0.92)" font-size="7.3px" text-anchor="end" font-weight="normal" >pACC</text>
<line x1="313.20" y1="332.10" x2="319.00" y2="332.10" stroke="#111" stroke-width="0.7"/>
<path d="M320.80,332.10 L317.80,330.80 L317.80,333.40 Z" fill="#111"/>
<line x1="313.20" y1="335.10" x2="319.00" y2="335.10" stroke="#111" stroke-width="0.7"/>
<path d="M320.80,335.10 L317.80,333.80 L317.80,336.40 Z" fill="#111"/>
<text transform="translate(311.20,349.32) scale(1,0.92)" font-size="7.3px" text-anchor="end" font-weight="normal" >ACC</text>
<line x1="313.20" y1="345.40" x2="319.00" y2="345.40" stroke="#111" stroke-width="0.7"/>
<path d="M320.80,345.40 L317.80,344.10 L317.80,346.70 Z" fill="#111"/>
<line x1="313.20" y1="348.40" x2="319.00" y2="348.40" stroke="#111" stroke-width="0.7"/>
<path d="M320.80,348.40 L317.80,347.10 L317.80,349.70 Z" fill="#111"/>
<text transform="translate(321.00,360.52) scale(1,0.92)" font-size="7.0px" text-anchor="end" font-weight="normal" >canagliflozin (µM):</text>
<text transform="translate(321.00,368.52) scale(1,0.92)" font-size="7.0px" text-anchor="end" font-weight="normal" >metformin (µM):</text>
<text transform="translate(331.20,360.49) scale(1,0.92)" font-size="6.9px" text-anchor="middle" font-weight="normal" >0</text>
<text transform="translate(346.30,360.49) scale(1,0.92)" font-size="6.9px" text-anchor="middle" font-weight="normal" >1</text>
<text transform="translate(361.30,360.49) scale(1,0.92)" font-size="6.9px" text-anchor="middle" font-weight="normal" >3</text>
<text transform="translate(376.90,360.49) scale(1,0.92)" font-size="6.9px" text-anchor="middle" font-weight="normal" >10</text>
<text transform="translate(392.00,360.49) scale(1,0.92)" font-size="6.9px" text-anchor="middle" font-weight="normal" >30</text>
<text transform="translate(407.00,368.49) scale(1,0.92)" font-size="6.9px" text-anchor="middle" font-weight="normal" >500</text>
<text transform="translate(422.30,360.49) scale(1,0.92)" font-size="6.9px" text-anchor="middle" font-weight="normal" >0</text>
<text transform="translate(437.10,360.49) scale(1,0.92)" font-size="6.9px" text-anchor="middle" font-weight="normal" >1</text>
<text transform="translate(452.10,360.49) scale(1,0.92)" font-size="6.9px" text-anchor="middle" font-weight="normal" >3</text>
<text transform="translate(466.80,360.49) scale(1,0.92)" font-size="6.9px" text-anchor="middle" font-weight="normal" >10</text>
<text transform="translate(481.80,360.49) scale(1,0.92)" font-size="6.9px" text-anchor="middle" font-weight="normal" >30</text>
<text transform="translate(498.00,368.49) scale(1,0.92)" font-size="6.9px" text-anchor="middle" font-weight="normal" >500</text>
<path d="M324.50,373.40 V375.60 H414.40 V373.40" fill="none" stroke="#111" stroke-width="1.0"/>
<path d="M417.00,373.40 V375.60 H504.60 V373.40" fill="none" stroke="#111" stroke-width="1.0"/>
<text transform="translate(366.30,385.12) scale(1,0.92)" font-size="7.6px" text-anchor="middle" font-weight="normal" >WILD TYPE</text>
<text transform="translate(458.50,385.12) scale(1,0.92)" font-size="7.6px" text-anchor="middle" font-weight="normal" >ACC1/ACC2 DKI</text>
<text transform="translate(0.00,348.60) scale(0.88,1)" x="0" y="0" font-size="14.6px" font-weight="bold" style="stroke-width:0.8px">E</text>
<text transform="translate(14.10,345.20) scale(1,0.93)" font-size="8.75px" style="stroke-width:0.45px"><tspan>Quantification of protein phosphorylation in WT hepatocytes</tspan></text>
<rect x="67.85" y="429.44" width="10.90" height="19.56" fill="#fff" stroke="#111" stroke-width="0.9" />
<line x1="73.30" y1="428.86" x2="73.30" y2="430.02" stroke="#111" stroke-width="1.0"/>
<line x1="69.90" y1="428.86" x2="76.70" y2="428.86" stroke="#111" stroke-width="1.0"/>
<line x1="69.90" y1="430.02" x2="76.70" y2="430.02" stroke="#111" stroke-width="1.0"/>
<rect x="83.15" y="425.55" width="10.90" height="23.45" fill="#eaeaea" stroke="#111" stroke-width="0.9" />
<line x1="88.60" y1="423.21" x2="88.60" y2="427.88" stroke="#111" stroke-width="1.0"/>
<line x1="85.20" y1="423.21" x2="92.00" y2="423.21" stroke="#111" stroke-width="1.0"/>
<line x1="85.20" y1="427.88" x2="92.00" y2="427.88" stroke="#111" stroke-width="1.0"/>
<rect x="98.45" y="425.55" width="10.90" height="23.45" fill="#d2d2d2" stroke="#111" stroke-width="0.9" />
<line x1="103.90" y1="422.44" x2="103.90" y2="428.66" stroke="#111" stroke-width="1.0"/>
<line x1="100.50" y1="422.44" x2="107.30" y2="422.44" stroke="#111" stroke-width="1.0"/>
<line x1="100.50" y1="428.66" x2="107.30" y2="428.66" stroke="#111" stroke-width="1.0"/>
<rect x="113.75" y="413.48" width="10.90" height="35.52" fill="#d6d6d6" stroke="#111" stroke-width="0.9" />
<line x1="119.20" y1="410.76" x2="119.20" y2="416.21" stroke="#111" stroke-width="1.0"/>
<line x1="115.80" y1="410.76" x2="122.60" y2="410.76" stroke="#111" stroke-width="1.0"/>
<line x1="115.80" y1="416.21" x2="122.60" y2="416.21" stroke="#111" stroke-width="1.0"/>
<text transform="translate(119.45,409.53) scale(1,0.92)" font-size="5.8px" text-anchor="middle" font-weight="bold" letter-spacing="0.5" style="stroke-width:0.5px">*</text>
<rect x="129.05" y="386.24" width="10.90" height="62.76" fill="#989898" stroke="#111" stroke-width="0.9" />
<line x1="134.50" y1="378.07" x2="134.50" y2="394.41" stroke="#111" stroke-width="1.0"/>
<line x1="131.10" y1="378.07" x2="137.90" y2="378.07" stroke="#111" stroke-width="1.0"/>
<line x1="131.10" y1="394.41" x2="137.90" y2="394.41" stroke="#111" stroke-width="1.0"/>
<text transform="translate(134.75,378.03) scale(1,0.92)" font-size="5.8px" text-anchor="middle" font-weight="bold" letter-spacing="0.5" style="stroke-width:0.5px">****</text>
<rect x="144.35" y="368.34" width="10.90" height="80.66" fill="#fff" stroke="none" stroke-width="0" />
<line x1="147.20" y1="368.34" x2="147.20" y2="449.00" stroke="#444" stroke-width="0.8"/>
<line x1="151.84" y1="368.34" x2="151.84" y2="449.00" stroke="#444" stroke-width="0.8"/>
<rect x="144.35" y="368.34" width="10.90" height="80.66" fill="none" stroke="#111" stroke-width="0.9" />
<line x1="149.80" y1="366.00" x2="149.80" y2="370.67" stroke="#111" stroke-width="1.0"/>
<line x1="146.40" y1="366.00" x2="153.20" y2="366.00" stroke="#111" stroke-width="1.0"/>
<line x1="146.40" y1="370.67" x2="153.20" y2="370.67" stroke="#111" stroke-width="1.0"/>
<text transform="translate(150.05,364.48) scale(1,0.92)" font-size="5.8px" text-anchor="middle" font-weight="bold" letter-spacing="0.5" style="stroke-width:0.5px">****</text>
<rect x="158.75" y="429.44" width="10.90" height="19.56" fill="#fff" stroke="#111" stroke-width="0.9" />
<line x1="164.20" y1="428.86" x2="164.20" y2="430.02" stroke="#111" stroke-width="1.0"/>
<line x1="160.80" y1="428.86" x2="167.60" y2="428.86" stroke="#111" stroke-width="1.0"/>
<line x1="160.80" y1="430.02" x2="167.60" y2="430.02" stroke="#111" stroke-width="1.0"/>
<rect x="174.05" y="427.88" width="10.90" height="21.12" fill="#eaeaea" stroke="#111" stroke-width="0.9" />
<line x1="179.50" y1="426.91" x2="179.50" y2="428.86" stroke="#111" stroke-width="1.0"/>
<line x1="176.10" y1="426.91" x2="182.90" y2="426.91" stroke="#111" stroke-width="1.0"/>
<line x1="176.10" y1="428.86" x2="182.90" y2="428.86" stroke="#111" stroke-width="1.0"/>
<rect x="189.35" y="424.77" width="10.90" height="24.23" fill="#d2d2d2" stroke="#111" stroke-width="0.9" />
<line x1="194.80" y1="423.41" x2="194.80" y2="426.13" stroke="#111" stroke-width="1.0"/>
<line x1="191.40" y1="423.41" x2="198.20" y2="423.41" stroke="#111" stroke-width="1.0"/>
<line x1="191.40" y1="426.13" x2="198.20" y2="426.13" stroke="#111" stroke-width="1.0"/>
<rect x="204.65" y="416.60" width="10.90" height="32.40" fill="#d6d6d6" stroke="#111" stroke-width="0.9" />
<line x1="210.10" y1="415.04" x2="210.10" y2="418.15" stroke="#111" stroke-width="1.0"/>
<line x1="206.70" y1="415.04" x2="213.50" y2="415.04" stroke="#111" stroke-width="1.0"/>
<line x1="206.70" y1="418.15" x2="213.50" y2="418.15" stroke="#111" stroke-width="1.0"/>
<text transform="translate(210.35,413.83) scale(1,0.92)" font-size="5.8px" text-anchor="middle" font-weight="bold" letter-spacing="0.5" style="stroke-width:0.5px">*</text>
<rect x="219.95" y="392.47" width="10.90" height="56.53" fill="#989898" stroke="#111" stroke-width="0.9" />
<line x1="225.40" y1="388.58" x2="225.40" y2="396.36" stroke="#111" stroke-width="1.0"/>
<line x1="222.00" y1="388.58" x2="228.80" y2="388.58" stroke="#111" stroke-width="1.0"/>
<line x1="222.00" y1="396.36" x2="228.80" y2="396.36" stroke="#111" stroke-width="1.0"/>
<text transform="translate(225.65,387.83) scale(1,0.92)" font-size="5.8px" text-anchor="middle" font-weight="bold" letter-spacing="0.5" style="stroke-width:0.5px">****</text>
<rect x="235.25" y="387.41" width="10.90" height="61.59" fill="#fff" stroke="none" stroke-width="0" />
<line x1="240.10" y1="387.41" x2="240.10" y2="449.00" stroke="#444" stroke-width="0.8"/>
<line x1="244.74" y1="387.41" x2="244.74" y2="449.00" stroke="#444" stroke-width="0.8"/>
<rect x="235.25" y="387.41" width="10.90" height="61.59" fill="none" stroke="#111" stroke-width="0.9" />
<line x1="240.70" y1="381.96" x2="240.70" y2="392.85" stroke="#111" stroke-width="1.0"/>
<line x1="237.30" y1="381.96" x2="244.10" y2="381.96" stroke="#111" stroke-width="1.0"/>
<line x1="237.30" y1="392.85" x2="244.10" y2="392.85" stroke="#111" stroke-width="1.0"/>
<text transform="translate(240.95,381.13) scale(1,0.92)" font-size="5.8px" text-anchor="middle" font-weight="bold" letter-spacing="0.5" style="stroke-width:0.5px">****</text>
<rect x="66.20" y="351.50" width="183.00" height="97.50" fill="none" stroke="#111" stroke-width="0.9" />
<line x1="157.60" y1="351.50" x2="157.60" y2="449.00" stroke="#111" stroke-width="0.9"/>
<line x1="66.20" y1="429.44" x2="68.60" y2="429.44" stroke="#111" stroke-width="0.9"/>
<text transform="translate(63.60,432.16) scale(1,0.92)" font-size="8.2px" text-anchor="end" font-weight="normal" >1</text>
<line x1="66.20" y1="409.98" x2="68.60" y2="409.98" stroke="#111" stroke-width="0.9"/>
<text transform="translate(63.60,412.70) scale(1,0.92)" font-size="8.2px" text-anchor="end" font-weight="normal" >2</text>
<line x1="66.20" y1="390.52" x2="68.60" y2="390.52" stroke="#111" stroke-width="0.9"/>
<text transform="translate(63.60,393.24) scale(1,0.92)" font-size="8.2px" text-anchor="end" font-weight="normal" >3</text>
<line x1="66.20" y1="371.06" x2="68.60" y2="371.06" stroke="#111" stroke-width="0.9"/>
<text transform="translate(63.60,373.78) scale(1,0.92)" font-size="8.2px" text-anchor="end" font-weight="normal" >4</text>
<line x1="157.60" y1="429.44" x2="161.00" y2="429.44" stroke="#111" stroke-width="0.9"/>
<line x1="157.60" y1="409.98" x2="161.00" y2="409.98" stroke="#111" stroke-width="0.9"/>
<line x1="157.60" y1="390.52" x2="161.00" y2="390.52" stroke="#111" stroke-width="0.9"/>
<line x1="157.60" y1="371.06" x2="161.00" y2="371.06" stroke="#111" stroke-width="0.9"/>
<text transform="translate(70.40,360.98) scale(1,0.92)" font-size="7.7px" text-anchor="start" font-weight="normal" >pT172/AMPK-α</text>
<text transform="translate(162.00,360.98) scale(1,0.92)" font-size="7.7px" text-anchor="start" font-weight="normal" >pACC/ACC</text>
<text transform="translate(32.60,400.30) rotate(-90) scale(1,0.86)" x="0" y="2.81" font-size="7.8px" text-anchor="middle">P-protein/total protein</text>
<text transform="translate(42.80,400.30) rotate(-90) scale(1,0.88)" x="0" y="2.74" font-size="7.6px" text-anchor="middle">(relative to control)</text>
<text transform="translate(63.50,456.12) scale(1,0.92)" font-size="7.0px" text-anchor="end" font-weight="normal" >canagliflozin (µM):</text>
<text transform="translate(63.50,464.32) scale(1,0.92)" font-size="7.0px" text-anchor="end" font-weight="normal" >metformin (µM):</text>
<text transform="translate(73.50,455.82) scale(1,0.92)" font-size="7.0px" text-anchor="middle" font-weight="normal" >0</text>
<text transform="translate(88.80,455.82) scale(1,0.92)" font-size="7.0px" text-anchor="middle" font-weight="normal" >1</text>
<text transform="translate(104.10,455.82) scale(1,0.92)" font-size="7.0px" text-anchor="middle" font-weight="normal" >3</text>
<text transform="translate(119.40,455.82) scale(1,0.92)" font-size="7.0px" text-anchor="middle" font-weight="normal" >10</text>
<text transform="translate(134.70,455.82) scale(1,0.92)" font-size="7.0px" text-anchor="middle" font-weight="normal" >30</text>
<text transform="translate(150.00,463.92) scale(1,0.92)" font-size="7.0px" text-anchor="middle" font-weight="normal" >500</text>
<text transform="translate(164.40,455.82) scale(1,0.92)" font-size="7.0px" text-anchor="middle" font-weight="normal" >0</text>
<text transform="translate(179.70,455.82) scale(1,0.92)" font-size="7.0px" text-anchor="middle" font-weight="normal" >1</text>
<text transform="translate(195.00,455.82) scale(1,0.92)" font-size="7.0px" text-anchor="middle" font-weight="normal" >3</text>
<text transform="translate(210.30,455.82) scale(1,0.92)" font-size="7.0px" text-anchor="middle" font-weight="normal" >10</text>
<text transform="translate(225.60,455.82) scale(1,0.92)" font-size="7.0px" text-anchor="middle" font-weight="normal" >30</text>
<text transform="translate(240.90,463.92) scale(1,0.92)" font-size="7.0px" text-anchor="middle" font-weight="normal" >500</text>
</svg></body></html>
